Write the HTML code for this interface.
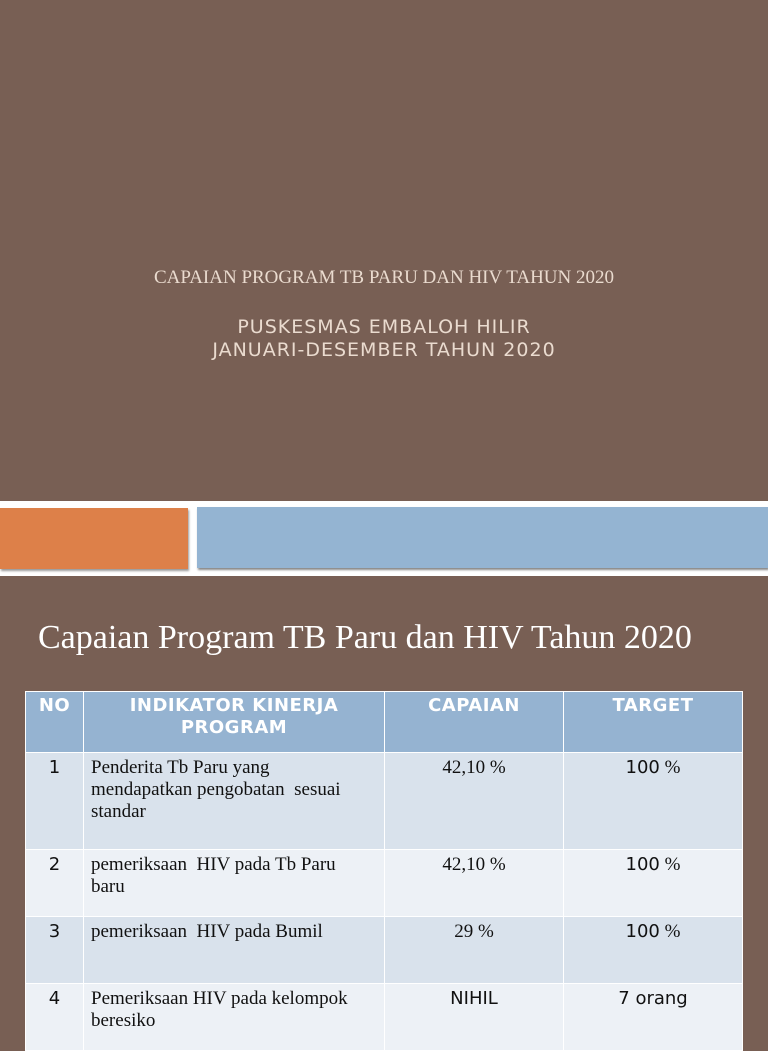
<!DOCTYPE html>
<html><head><meta charset="utf-8"><style>
body{margin:0;width:768px;height:1024px;background:#785f54;position:relative;overflow:hidden;font-family:"Liberation Serif",serif}
.a{position:absolute}
table{position:absolute;left:25px;top:691px;border-collapse:collapse;width:717px;table-layout:fixed}
td,th{border:1px solid #fff;vertical-align:top;padding:0}
th{background:#95b3d1;color:#fff;font-family:"DejaVu Sans",sans-serif;font-weight:bold;font-size:18px;letter-spacing:0.5px;line-height:22px;padding-top:3px;height:57px}
td{font-size:19px;line-height:22px;color:#111;padding-top:4px}
.n{text-align:center;font-family:"DejaVu Sans",sans-serif;font-size:18px}
.t{padding-left:7px}
.c{text-align:center}
.d{background:#d9e2ec}.l{background:#edf1f6}
</style></head><body>
<div class="a" style="left:0;width:768px;top:267px;text-align:center;color:#eadbcf;font-size:19px">CAPAIAN PROGRAM TB PARU DAN HIV TAHUN 2020</div>
<div class="a" style="left:0;width:768px;top:316px;text-align:center;color:#eadbcf;font-family:'DejaVu Sans',sans-serif;font-size:19px;letter-spacing:1px;line-height:23px">PUSKESMAS EMBALOH HILIR<br>JANUARI-DESEMBER TAHUN 2020</div>
<div class="a" style="left:0;top:501px;width:768px;height:75px;background:#fff"></div>
<div class="a" style="left:0;top:508px;width:188px;height:61px;background:#dd8049;box-shadow:1px 2px 2px #999"></div>
<div class="a" style="left:197px;top:507px;width:571px;height:61px;background:#94b4d2;box-shadow:1px 2px 2px #888"></div>
<div class="a" style="left:38px;top:619px;color:#fff;font-size:34px">Capaian Program TB Paru dan HIV Tahun 2020</div>
<table>
<colgroup><col style="width:58px"><col style="width:301px"><col style="width:179px"><col style="width:179px"></colgroup>
<tr><th>NO</th><th>INDIKATOR KINERJA<br>PROGRAM</th><th>CAPAIAN</th><th>TARGET</th></tr>
<tr class="d" style="height:97px"><td class="n">1</td><td class="t">Penderita Tb Paru yang<br>mendapatkan pengobatan&nbsp; sesuai<br>standar</td><td class="c">42,10 %</td><td class="c"><span style="font-family:'DejaVu Sans',sans-serif;font-size:18px">100</span> %</td></tr>
<tr class="l" style="height:67px"><td class="n">2</td><td class="t">pemeriksaan&nbsp; HIV pada Tb Paru<br>baru</td><td class="c">42,10 %</td><td class="c"><span style="font-family:'DejaVu Sans',sans-serif;font-size:18px">100</span> %</td></tr>
<tr class="d" style="height:67px"><td class="n">3</td><td class="t">pemeriksaan&nbsp; HIV pada Bumil</td><td class="c">29 %</td><td class="c"><span style="font-family:'DejaVu Sans',sans-serif;font-size:18px">100</span> %</td></tr>
<tr class="l" style="height:67px"><td class="n">4</td><td class="t">Pemeriksaan HIV pada kelompok<br>beresiko</td><td class="c" style="font-family:'DejaVu Sans',sans-serif;font-size:18px">NIHIL</td><td class="c" style="font-family:'DejaVu Sans',sans-serif;font-size:18px">7 orang</td></tr>
</table>
</body></html>
